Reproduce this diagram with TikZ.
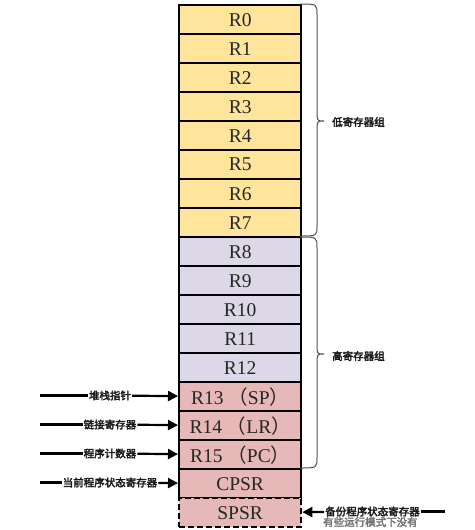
\documentclass[tikz,border=0pt]{standalone}
\usepackage{fontspec}
\setmainfont{Liberation Serif}
\newfontfamily\cjk{Noto Sans CJK SC}[FakeBold=3]
\newfontfamily\cjkreg{Noto Sans CJK SC}
\usetikzlibrary{arrows.meta}
\definecolor{yel}{HTML}{FFE49C}
\definecolor{lav}{HTML}{DDD8E8}
\definecolor{pnk}{HTML}{E6B9B8}
\definecolor{brc}{HTML}{505050}
\tikzset{
  reg/.style={draw=black, line width=2.3pt, minimum width=122pt, minimum height=29pt,
    inner sep=0pt, anchor=north west, font=\fontsize{19.5}{19.5}\selectfont, text=black!85},
  lab/.style={font=\cjk\fontsize{10.5}{11}\selectfont, inner sep=1pt, text=black!90},
  plain/.style={line width=2.2pt},
  arr/.style={line width=2.2pt, -{Triangle[length=10pt,width=10pt]}},
  brace/.style={draw=brc, line width=1pt}
}
\begin{document}
\begin{tikzpicture}[x=1pt,y=-1pt]
\useasboundingbox (0,0) rectangle (474,530);
% registers
\foreach \i in {0,...,7} \node[reg, fill=yel] (r\i) at (178,{4+29*\i}) {R\i};
\foreach \i in {8,...,12} \node[reg, fill=lav] (r\i) at (178,{4+29*\i}) {R\i};
\node[reg, fill=pnk] (r13) at (178,381) {R13 {\cjkreg （}SP{\cjkreg ）}};
\node[reg, fill=pnk] (r14) at (178,410) {R14 {\cjkreg （}LR{\cjkreg ）}};
\node[reg, fill=pnk] (r15) at (178,439) {R15 {\cjkreg （}PC{\cjkreg ）}};
\node[reg, fill=pnk] (cpsr) at (178,468) {CPSR};
\node[reg, fill=pnk, dash pattern=on 6pt off 3pt] (spsr) at (178,497) {SPSR};
% braces
\draw[brace] (300,4) .. controls (317,4) .. (317,15) -- (317,111)
  .. controls (317,121) .. (324,121) .. controls (317,121) .. (317,131)
  -- (317,226) .. controls (317,236) .. (300,236);
\draw[brace] (300,237) .. controls (317,237) .. (317,248) -- (317,344)
  .. controls (317,354) .. (324,354) .. controls (317,354) .. (317,364)
  -- (317,457) .. controls (317,468) .. (300,468);
\node[lab, anchor=west] (low) at (331,122) {低寄存器组};
\node[lab, anchor=west] (high) at (331,356) {高寄存器组};
% left arrows
\coordinate (s13) at (40,395.5);
\coordinate (s14) at (40,424.5);
\coordinate (s15) at (40,453.5);
\coordinate (sc) at (40,482.5);
\node[lab] (l13) at (110,395.5) {堆栈指针};
\node[lab] (l14) at (110,424.5) {链接寄存器};
\node[lab] (l15) at (110,453.5) {程序计数器};
\node[lab] (lc) at (110,482.5) {当前程序状态寄存器};
\draw[plain] (s13) -- (l13);
\draw[arr] (l13) -- (r13);
\draw[plain] (s14) -- (l14);
\draw[arr] (l14) -- (r14);
\draw[plain] (s15) -- (l15);
\draw[arr] (l15) -- (r15);
\draw[plain] (sc) -- (lc);
\draw[arr] (lc) -- (cpsr);
% right arrow to SPSR
\coordinate (ss) at (445,511.5);
\node[lab] (ls) at (372.5,511.5) {备份程序状态寄存器};
\draw[plain] (ss) -- (ls);
\draw[arr] (ls) -- (spsr);
\node[lab, text=black!55, anchor=west] (note) at (322,522) {有些运行模式下没有};
\end{tikzpicture}
\end{document}
